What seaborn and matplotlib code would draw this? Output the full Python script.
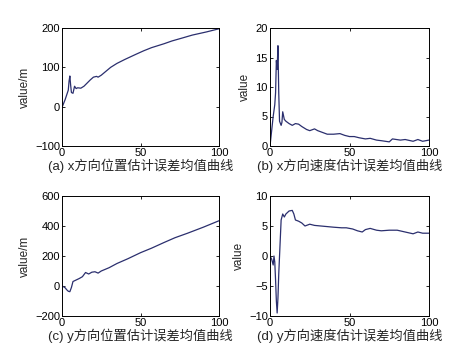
import matplotlib
matplotlib.use("Agg")
import matplotlib.pyplot as plt
import seaborn as sns
import pandas as pd

# (a) x position error mean
xa = [0, 1, 2, 3, 4, 4.5, 5, 5.5, 6, 7, 8, 9, 10, 12, 14, 16, 18, 20, 22, 23, 25, 28, 31, 35, 40, 47, 52, 57, 65, 70, 77, 83, 92, 100]
ya = [-2, 8, 18, 30, 42, 65, 78, 55, 36, 34, 52, 46, 48, 47, 52, 60, 68, 75, 77, 75, 80, 90, 100, 110, 120, 133, 142, 150, 160, 167, 175, 182, 190, 198]

# (b) x velocity error mean
xb = [0, 1, 2, 3, 3.5, 4, 4.5, 5, 5.5, 6, 7, 7.5, 8, 9, 10, 12, 14, 16, 18, 20, 23, 25, 28, 30, 33, 36, 40, 44, 47, 50, 53, 56, 60, 63, 67, 70, 75, 77, 82, 85, 90, 93, 96, 100]
yb = [0, 2.5, 5, 7, 9, 14.5, 13, 17, 9, 4.2, 3.5, 4, 5.8, 4.5, 4.2, 3.8, 3.5, 3.8, 3.7, 3.3, 2.8, 2.6, 2.9, 2.6, 2.3, 2.0, 2.0, 2.1, 1.8, 1.6, 1.6, 1.4, 1.2, 1.3, 1.0, 0.9, 0.7, 1.2, 1.0, 1.1, 0.8, 1.1, 0.8, 1.0]

# (c) y position error mean
xc = [0, 1, 2, 3, 4, 5, 6, 7, 9, 11, 13, 15, 17, 19, 21, 23, 25, 30, 35, 42, 50, 57, 65, 72, 80, 90, 100]
yc = [0, -5, -12, -25, -35, -38, -10, 30, 40, 50, 62, 90, 80, 92, 95, 86, 100, 122, 150, 182, 222, 252, 290, 322, 352, 392, 435]

# (d) y velocity error mean
xd = [0, 1, 2, 2.5, 3, 3.5, 4, 4.5, 5, 5.5, 6, 7, 8, 9, 10, 12, 14, 15, 16, 18, 20, 22, 25, 28, 32, 36, 40, 45, 48, 52, 55, 58, 60, 63, 67, 70, 75, 80, 85, 90, 93, 96, 100]
yd = [0, -0.5, -1.5, 0, -1, -4, -7.5, -9.5, -7, -3, 0, 6, 7, 6.5, 7, 7.5, 7.6, 7, 6, 5.8, 5.5, 5.0, 5.3, 5.1, 5.0, 4.9, 4.8, 4.7, 4.7, 4.5, 4.2, 4.0, 4.4, 4.6, 4.3, 4.2, 4.3, 4.3, 4.0, 3.7, 4.0, 3.8, 3.8]

xticks = [0, 50, 100]
yticks_a = [-100, 0, 100, 200]
yticks_b = [0, 5, 10, 15, 20]
yticks_c = [-200, 0, 200, 400, 600]
yticks_d = [-10, -5, 0, 5, 10]

titles = ["(a) x方向位置估计误差均值曲线", "(b) x方向速度估计误差均值曲线",
          "(c) y方向位置估计误差均值曲线", "(d) y方向速度估计误差均值曲线"]
ylabels = ["value/m", "value", "value/m", "value"]

sns.set_style("ticks")
plt.rcParams["font.family"] = ["Liberation Sans", "Noto Sans CJK SC", "DejaVu Sans"]
plt.rcParams["xtick.direction"] = "in"
plt.rcParams["ytick.direction"] = "in"

fig = plt.figure(figsize=(4.74, 3.55), dpi=100)
W, H = 474, 355
boxes = [(62, 28, 219, 146), (270, 28, 429, 146), (62, 196, 219, 316), (270, 196, 429, 316)]
series = [(xa, ya, yticks_a), (xb, yb, yticks_b), (xc, yc, yticks_c), (xd, yd, yticks_d)]
color = "#2b2f6e"

for (l, t, r, b), (xs, ys, yt), title, yl in zip(boxes, series, titles, ylabels):
    ax = fig.add_axes([l / W, 1 - b / H, (r - l) / W, (b - t) / H])
    df = pd.DataFrame({"x": xs, "y": ys})
    sns.lineplot(data=df, x="x", y="y", ax=ax, color=color, linewidth=0.9)
    ax.set_xlim(0, 100)
    ax.set_ylim(yt[0], yt[-1])
    ax.set_xticks(xticks)
    ax.set_yticks(yt)
    ax.tick_params(axis="both", labelsize=8, length=2.5, width=0.6, pad=1.5,
                   top=True, right=True, colors="black")
    for s in ax.spines.values():
        s.set_linewidth(0.7)
        s.set_color("black")
    ax.set_xlabel(title, fontsize=9.5, labelpad=0.5)
    ax.set_ylabel(yl, fontsize=8.5, labelpad=3)

fig.savefig("out.png", dpi=100, facecolor="white")
